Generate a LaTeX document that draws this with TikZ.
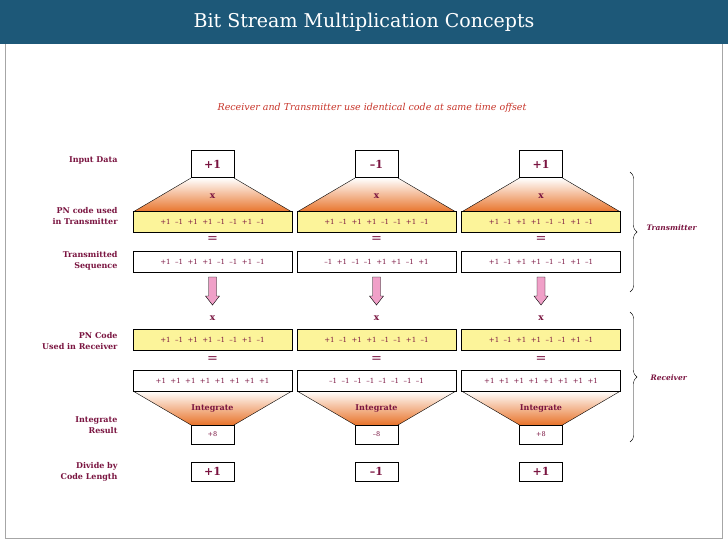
\documentclass[tikz,border=0pt]{standalone}
\usepackage{fontspec}
\setmainfont{DejaVu Serif}
\usetikzlibrary{decorations.pathreplacing}
\definecolor{maroon}{HTML}{7A1440}
\definecolor{bar}{HTML}{1D5878}
\definecolor{yel}{HTML}{FCF49A}
\definecolor{org}{HTML}{E8732A}
\definecolor{pinkar}{HTML}{F0A0C8}
\definecolor{redt}{HTML}{C8352A}
\begin{document}
\begin{tikzpicture}[x=1pt,y=-1pt,
  seq/.style={draw,minimum width=159pt,minimum height=21pt,inner sep=0pt,font=\fontsize{7}{8}\selectfont,text=maroon},
  yseq/.style={seq,fill=yel},
  sm/.style={draw,fill=white,minimum width=43pt,minimum height=27pt,inner sep=0pt,font=\bfseries\fontsize{11}{12}\selectfont,text=maroon},
  lab/.style={align=right,anchor=east,font=\bfseries\fontsize{8}{11.5}\selectfont,text=maroon},
  op/.style={font=\bfseries\fontsize{9}{10}\selectfont,text=maroon},
  eq/.style={font=\fontsize{13}{14}\selectfont,text=maroon},
  parr/.style={draw,fill=pinkar}]
\useasboundingbox (0,0) rectangle (728,546);
\fill[white] (0,0) rectangle (728,546);
\draw[gray!70,line width=1pt] (5,44) -- (5,538) -- (722,538) -- (722,44);
\fill[bar] (0,0) rectangle (728,44);
\node[text=white,font=\fontsize{19}{22}\selectfont] (title) at (364,22) {Bit Stream Multiplication Concepts};
\node[text=redt,font=\itshape\fontsize{9.5}{11}\selectfont] (note) at (372,108) {Receiver and Transmitter use identical code at same time offset};
\node[lab] (l1) at (121,160) {Input Data};
\node[lab] (l2) at (121,216) {PN code used\\in Transmitter};
\node[lab] (l3) at (121,261) {Transmitted\\Sequence};
\node[lab] (l4) at (121,341) {PN Code\\Used in Receiver};
\node[lab] (l5) at (121,425) {Integrate\\Result};
\node[lab] (l6) at (121,472) {Divide by\\Code Length};
\def\pn{+1~~–1~~+1~~+1~~–1~~–1~~+1~~–1}
\foreach \i/\cx/\inp/\tx/\rx/\res in {
 1/212.5/+1/{+1~~–1~~+1~~+1~~–1~~–1~~+1~~–1}/{+1~~+1~~+1~~+1~~+1~~+1~~+1~~+1}/+8,
 2/376.5/–1/{–1~~+1~~–1~~–1~~+1~~+1~~–1~~+1}/{–1~~–1~~–1~~–1~~–1~~–1~~–1~~–1}/–8,
 3/541/+1/{+1~~–1~~+1~~+1~~–1~~–1~~+1~~–1}/{+1~~+1~~+1~~+1~~+1~~+1~~+1~~+1}/+8}{
  \shade[top color=white,bottom color=org] (\cx-21.5,178) -- (\cx+21.5,178) -- (\cx+79.5,212) -- (\cx-79.5,212) -- cycle;
  \draw (\cx-21.5,178) -- (\cx-79.5,212) (\cx+21.5,178) -- (\cx+79.5,212);
  \node[sm] (in\i) at (\cx,164) {\inp};
  \node[op] (x\i) at (\cx,196) {x};
  \node[yseq] (pt\i) at (\cx,222) {\pn};
  \node[eq] (e\i) at (\cx,240) {=};
  \node[seq] (ts\i) at (\cx,261.5) {\tx};
  \draw[parr] (\cx-4,277) -- (\cx+4,277) -- (\cx+4,296) -- (\cx+7,296) -- (\cx,305) -- (\cx-7,296) -- (\cx-4,296) -- cycle;
  \node[op] (xr\i) at (\cx,318) {x};
  \node[yseq] (pr\i) at (\cx,339.5) {\pn};
  \node[eq] (er\i) at (\cx,360) {=};
  \shade[top color=white,bottom color=org] (\cx-79.5,391) -- (\cx+79.5,391) -- (\cx+21.5,425) -- (\cx-21.5,425) -- cycle;
  \draw (\cx-79.5,391) -- (\cx-21.5,425) (\cx+79.5,391) -- (\cx+21.5,425);
  \node[seq] (rs\i) at (\cx,380.5) {\rx};
  \node[op,font=\bfseries\fontsize{8}{9}\selectfont] (ig\i) at (\cx,408) {Integrate};
  \node[sm,minimum height=19pt,font=\fontsize{6.5}{7}\selectfont] (r\i) at (\cx,434.5) {\res};
  \node[sm,minimum height=19pt] (d\i) at (\cx,471.5) {\inp};
}
\draw[decorate,decoration={brace,amplitude=7pt}] (630,172) -- (630,292);
\node[anchor=west,text=maroon,font=\bfseries\itshape\fontsize{7.5}{8}\selectfont] (tl) at (643,228) {Transmitter};
\draw[decorate,decoration={brace,amplitude=7pt}] (630,312) -- (630,442);
\node[anchor=west,text=maroon,font=\bfseries\itshape\fontsize{7.5}{8}\selectfont] (rl) at (647,378) {Receiver};
\end{tikzpicture}
\end{document}
